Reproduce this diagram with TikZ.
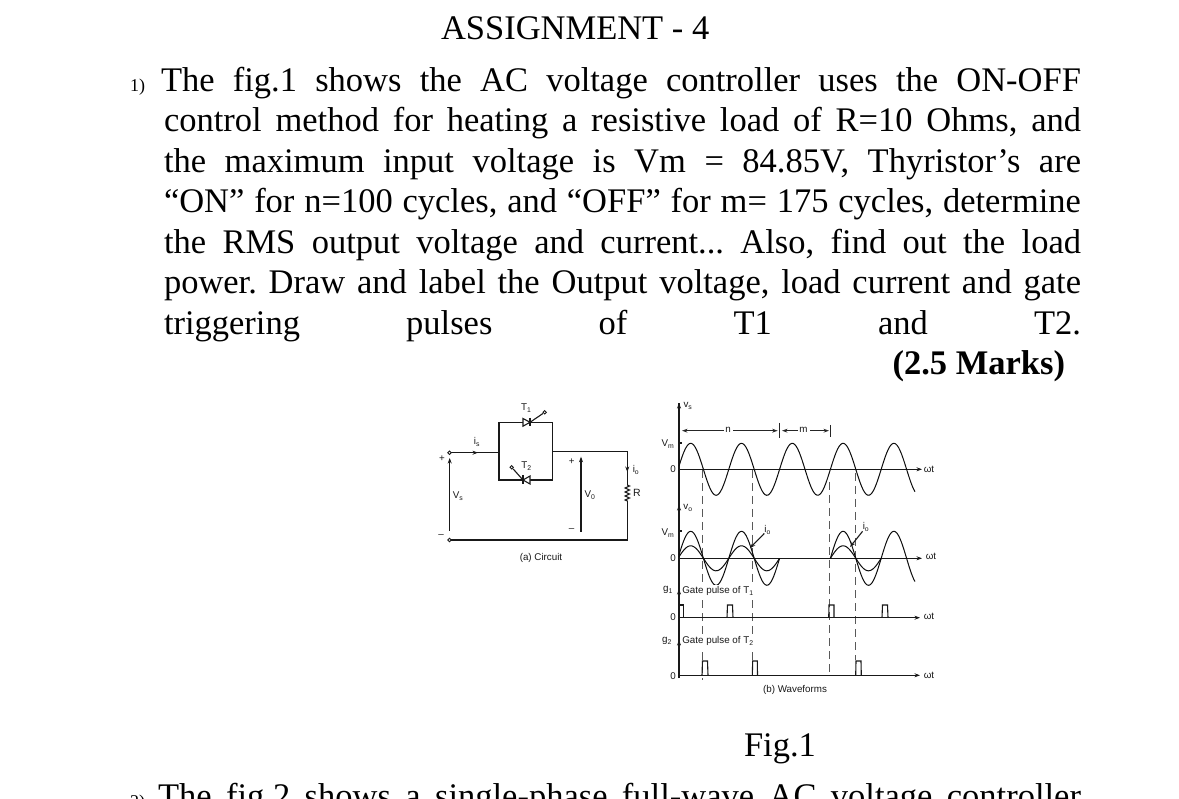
\documentclass[tikz,border=0pt]{standalone}
\usepackage{fontspec}
\setmainfont{Liberation Serif}
\newfontfamily\labfont{Liberation Sans}
\usetikzlibrary{arrows.meta,decorations.pathmorphing}
\newcommand{\jline}[4]{\node[bodytxt] (#1) at (#2) {\frenchspacing\makebox[#3pt][s]{#4}};}
\tikzset{
  bodytxt/.style={anchor=base west,inner sep=0pt,outer sep=0pt,font=\fontsize{34.5}{40}\selectfont},
  lab/.style={inner sep=0pt,font=\labfont\fontsize{9.8}{11}\selectfont,text=black!90},
  ln/.style={draw=black!90,line width=1.1pt},
  thin line/.style={draw=black!85,line width=0.9pt},
  arr/.style={ln,-{Stealth[length=5.5pt,width=4pt]}},
  dash line/.style={draw=black!65,line width=1pt,dash pattern=on 8pt off 5pt},
  wave/.style={draw=black!95,line width=1pt},
  term/.style={circle,draw=black!90,line width=0.9pt,fill=white,inner sep=0pt,minimum size=3.4pt}
}
\begin{document}
\begin{tikzpicture}[x=1pt,y=-1pt]
\useasboundingbox (0,0) rectangle (1179,799);
\fill[white] (0,0) rectangle (1179,799);
\clip (0,0) rectangle (1179,799);
% ---------- text ----------
\node[bodytxt] (title) at (441,40) {ASSIGNMENT - 4};
\node[bodytxt,font=\fontsize{18}{20}\selectfont] (numa) at (130,92) {1)};
\jline{l1}{161,92}{920}{The fig.1 shows the AC voltage controller uses the ON-OFF}
\jline{l2}{164,132}{917}{control method for heating a resistive load of R=10 Ohms, and}
\jline{l3}{164,173}{917}{the maximum input voltage is Vm = 84.85V, Thyristor’s are}
\jline{l4}{164,213}{917}{“ON” for n=100 cycles, and “OFF” for m= 175 cycles, determine}
\jline{l5}{164,254}{917}{the RMS output voltage and current... Also, find out the load}
\jline{l6}{164,294}{917}{power. Draw and label the Output voltage, load current and gate}
\jline{l7}{164,335}{917}{triggering pulses of T1 and T2.}
\node[bodytxt,anchor=base east,font=\fontsize{34.5}{40}\selectfont\bfseries] (marks) at (1065,375) {(2.5 Marks)};
\node[bodytxt] (figcap) at (744,756) {Fig.1};
\node[bodytxt,font=\fontsize{18}{20}\selectfont] (numb) at (130,807) {2)};
\jline{l8}{158,807}{923}{The fig.2 shows a single-phase full-wave AC voltage controller}
% ---------- circuit ----------
\coordinate (a) at (449.5,452.7);
\coordinate (b) at (449.5,540);
\coordinate (bl) at (499,452.7);
\coordinate (bltop) at (499,422.3);
\coordinate (blbot) at (499,480);
\coordinate (brtop) at (552.3,422.3);
\coordinate (brbot) at (552.3,480);
\coordinate (br) at (552.3,451.7);
\coordinate (rtop) at (627.3,451.7);
\coordinate (rbot) at (627.3,540);
\draw[ln] (bl) -- (bltop) -- (brtop) -- (brbot) -- (blbot) -- cycle;
\draw[ln] (a) -- (bl);
\draw[arr] (a) -- (478,452.7);
\draw[ln] (br) -- (rtop) -- (627.3,485);
\draw[arr] (627.3,455) -- (627.3,472);
\draw[ln,decorate,decoration={zigzag,segment length=4pt,amplitude=2.2pt}] (627.3,485) -- (627.3,501.5);
\draw[ln] (627.3,501.5) -- (rbot) -- (b);
\node[term] (ta) at (a) {};
\node[term] (tb) at (b) {};
% T1
\draw[ln,fill=white] (523,418.5) -- (530,422.3) -- (523,426.2) -- cycle;
\draw[ln] (530,418) -- (530,426.5);
\node[term] (g1t) at (544.7,412.3) {};
\draw[ln] (530,422.3) -- (g1t);
% T2
\draw[ln,fill=white] (530,476) -- (523,480) -- (530,484) -- cycle;
\draw[ln] (523,475.5) -- (523,484.5);
\node[term] (g2t) at (511.7,467.3) {};
\draw[ln] (523,480) -- (g2t);
% voltage arrows
\coordinate (vs0) at (449.7,531);
\coordinate (vs1) at (449.7,458);
\coordinate (vo0) at (581,531.7);
\coordinate (vo1) at (581,456.7);
\draw[arr] (vs0) -- (vs1);
\draw[arr] (vo0) -- (vo1);
\node[lab] (t1) at (526.3,408) {T\textsubscript{1}};
\node[lab] (t2) at (526.5,466) {T\textsubscript{2}};
\node[lab] (is) at (477,442) {i\textsubscript{s}};
\node[lab] (pa) at (442,459) {+};
\node[lab] (ma) at (441,536.5) {–};
\node[lab] (vs) at (458,496) {V\textsubscript{s}};
\node[lab] (pb) at (571.7,462) {+};
\node[lab] (mb) at (571.5,530) {–};
\node[lab] (vo) at (590,495) {V\textsubscript{0}};
\node[lab] (io) at (636,470) {i\textsubscript{o}};
\node[lab,font=\labfont\fontsize{10.5}{11}\selectfont] (rr) at (637,493) {R};
\node[lab] (capa) at (541,558) {(a) Circuit};
% ---------- waveforms ----------
\draw[dash line] (702,470) -- (702,680);
\draw[dash line] (752.7,470) -- (752.7,660);
\draw[dash line] (829,482) -- (829,675);
\draw[dash line] (855.7,473) -- (855.7,660);
\draw[ln] (679,678) -- (679,403);
\foreach \yy in {403,505,589,640} {\draw[arr] (679,\yy+6) -- (679,\yy);}
\draw[ln] (679,443) -- (682,443);
\draw[ln] (679,531) -- (682,531);
\draw[arr] (679,469.3) -- (922,469.3);
\draw[arr,line width=1.5pt] (679,558.3) -- (922,558.3);
\draw[arr] (679,617.7) -- (920,617.7);
\draw[arr] (679,675.3) -- (920,675.3);
\draw[wave] plot[domain=679:915,samples=160] (\x,{469.3-26*sin((\x-678)*7.087)});
\draw[wave] plot[domain=679:779.6,samples=70] (\x,{558.3-27*sin((\x-678)*7.087)});
\draw[wave] plot[domain=830.4:915,samples=70] (\x,{558.3-27*sin((\x-678)*7.087)});
\draw[wave] plot[domain=679:779.6,samples=70] (\x,{558.3-12.5*sin((\x-678)*7.087)});
\draw[wave] plot[domain=830.4:881.2,samples=40] (\x,{558.3-12.5*sin((\x-678)*7.087)});
% n / m
\coordinate (nl) at (682,430.7);
\coordinate (nr) at (777.7,430.7);
\coordinate (ml) at (782,430.7);
\coordinate (mr) at (829,430.7);
\draw[thin line,-{Stealth[length=5.5pt,width=3.8pt]}] (723.5,430.7) -- (nl);
\draw[thin line,-{Stealth[length=5.5pt,width=3.8pt]}] (733,430.7) -- (nr);
\draw[thin line,-{Stealth[length=5.5pt,width=3.8pt]}] (798,430.7) -- (ml);
\draw[thin line,-{Stealth[length=5.5pt,width=3.8pt]}] (810,430.7) -- (mr);
\draw[thin line] (779,423) -- (779,438);
\draw[thin line] (830.3,425) -- (830.3,437);
\node[lab] (nn) at (728,429.5) {n};
\node[lab] (mm) at (803.5,429.5) {m};
% leaders
\node[lab] (io1) at (767.7,530) {i\textsubscript{o}};
\node[lab] (io2) at (866,527) {i\textsubscript{o}};
\draw[arr] (io1) -- (750,548);
\draw[arr] (io2) -- (850,547);
% pulses
\draw[ln] (679.5,617.7) -- (679.5,605) -- (683.5,605) -- (683.5,617.7);
\draw[ln] (727,617.7) -- (727.5,605) -- (732.5,605) -- (733,617.7);
\draw[ln] (828.7,617.7) -- (829,605) -- (834,605) -- (834,617.7);
\draw[ln] (882,617.7) -- (882.5,605) -- (887.5,605) -- (888,617.7);
\draw[ln] (702,675.3) -- (702.5,661) -- (707.5,661) -- (708,675.3);
\draw[ln] (752.3,675.3) -- (752.7,661) -- (757.3,661) -- (757.5,675.3);
\draw[ln] (855.7,675.3) -- (856,661) -- (861,661) -- (861.3,675.3);
% axis labels
\node[lab] (vsl) at (688,406) {v\textsubscript{s}};
\node[lab] (vm1) at (668,444) {V\textsubscript{m}};
\node[lab] (z1) at (673,469) {0};
\node[lab] (wt1) at (929,469) {ωt};
\node[lab] (vol) at (688,508) {v\textsubscript{o}};
\node[lab] (vm2) at (668,533) {V\textsubscript{m}};
\node[lab] (z2) at (673,558) {0};
\node[lab] (wt2) at (931,556) {ωt};
\node[lab] (g1l) at (668,590) {g\textsubscript{1}};
\node[lab,fill=white,inner sep=1pt] (gp1) at (718,591) {Gate pulse of T\textsubscript{1}};
\node[lab] (z3) at (673,617) {0};
\node[lab] (wt3) at (929,616) {ωt};
\node[lab] (g2l) at (667,641) {g\textsubscript{2}};
\node[lab,fill=white,inner sep=1pt] (gp2) at (718,641) {Gate pulse of T\textsubscript{2}};
\node[lab] (z4) at (673,676) {0};
\node[lab] (wt4) at (929,675) {ωt};
\node[lab] (capb) at (795,690) {(b) Waveforms};
\end{tikzpicture}
\end{document}
